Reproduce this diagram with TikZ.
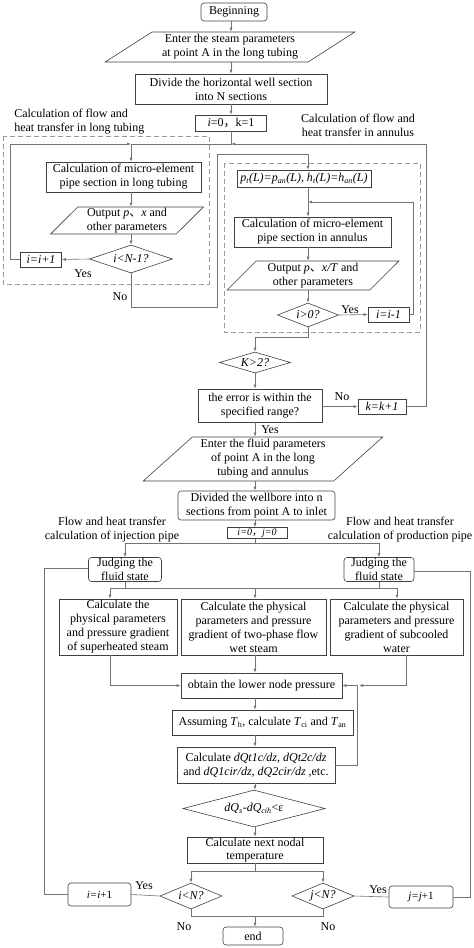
\documentclass[tikz,border=0pt]{standalone}
\usepackage{fontspec}
\setmainfont{Liberation Serif}
\newfontfamily\cjk{Noto Sans CJK SC}
\usetikzlibrary{arrows.meta, shapes.geometric}
\newcommand{\dun}{{\cjk 、}}
\newcommand{\dou}{{\cjk ，}}
\newcommand{\sbt}[1]{\textsubscript{#1}}

\begin{document}
\begin{tikzpicture}[x=1pt, y=-1pt,
        font=\fontsize{12}{14}\selectfont,
        line width=0.6pt,
        box/.style={draw=black!75, align=center, inner sep=0pt},
        rbox/.style={box, rounded corners=3pt},
        iobox/.style={box, trapezium, trapezium stretches=true},
        decision/.style={box, diamond, shape aspect=#1},
        decision/.default=3,
        label/.style={align=center, inner sep=0pt},
        arr/.style={draw=black!55, -{Latex[length=4pt, width=3pt]}},
        conn/.style={draw=black!55},
        group/.style={draw=black!40, dashed, dash pattern=on 5pt off 3pt}]
    \useasboundingbox (0,0) rectangle (474,948);

    \node[rbox, minimum width=66, minimum height=18] (start) at (234,12) {Beginning};
    \node[iobox, trapezium left angle=31.5, trapezium right angle=148.5, minimum width=250, minimum height=30] (enter) at (230,47) {Enter the steam parameters\\at point A in the long tubing};
    \node[box, minimum width=192, minimum height=30] (divide) at (231,89) {Divide the horizontal well section\\into N sections};
    \node[box, minimum width=71, minimum height=16] (init) at (231,123) {\textit{i}=0\dou k=1};
    \node[label, align=left, anchor=west] (labT) at (14,122) {Calculation of flow and\\heat transfer in long tubing};
    \node[label] (labA) at (358,125) {Calculation of flow and\\heat transfer in annulus};

    \draw[group] (3,136) rectangle (209,284);
    \node[box, minimum width=155, minimum height=30] (calcT) at (123.5,177) {Calculation of micro-element\\pipe section in long tubing};
    \node[iobox, trapezium left angle=48.4, trapezium right angle=131.6, minimum width=153, minimum height=27] (outT) at (127,220.5) {Output \textit{p}\dun\textit{x} and\\other parameters};
    \node[decision=3, minimum width=83, minimum height=28] (dT) at (131,259) {\textit{i<N-1?}};
    \node[box, minimum width=41, minimum height=15] (incT) at (41,259.5) {\textit{i=i+1}};

    \draw[group] (224,163) rectangle (420,332);
    \node[box, minimum width=134, minimum height=17] (bc) at (304,178.5) {\textit{p\sbt{t}(L)=p\sbt{an}(L), h\sbt{t}(L)=h\sbt{an}(L)}};
    \node[box, minimum width=157, minimum height=30] (calcA) at (312.5,232) {Calculation of micro-element\\pipe section in annulus};
    \node[iobox, trapezium left angle=47, trapezium right angle=133, minimum width=172, minimum height=29] (outA) at (313,275.5) {Output \textit{p}\dun\textit{x/T} and\\other parameters};
    \node[decision=2.5, minimum width=61, minimum height=24] (dA) at (308,315) {\textit{i>0?}};
    \node[box, minimum width=41, minimum height=15] (decA) at (388.5,314.5) {\textit{i=i-1}};

    \node[decision=3.4, minimum width=71, minimum height=21] (dK) at (255,362.5) {\textit{K>2?}};
    \node[box, minimum width=124, minimum height=33] (err) at (260,405.5) {the error is within the\\specified range?};
    \node[box, minimum width=48, minimum height=15] (incK) at (382,406.5) {\textit{k=k+1}};
    \node[iobox, trapezium left angle=42, trapezium right angle=138, minimum width=240, minimum height=44] (fluid) at (263,459) {Enter the fluid parameters\\of point A in the long\\tubing and annulus};
    \node[rbox, minimum width=157, minimum height=29] (divw) at (256.5,505.5) {Divided the wellbore into n\\sections from point A to inlet};
    \node[box, minimum width=60, minimum height=11, font=\fontsize{10}{11}\selectfont] (init2) at (257,533) {\textit{i=0}\dou\textit{j=0}};
    \node[label] (labI) at (112,530) {Flow and heat transfer\\calculation of injection pipe};
    \node[label] (labP) at (400,530) {Flow and heat transfer\\calculation of production pipe};

    \node[rbox, minimum width=73, minimum height=24] (judgeI) at (125,569.5) {Judging the\\fluid state};
    \node[rbox, minimum width=70, minimum height=24] (judgeP) at (379,569.5) {Judging the\\fluid state};
    \node[box, minimum width=118, minimum height=56] (sup) at (118,627) {Calculate the\\physical parameters\\and pressure gradient\\of superheated steam};
    \node[box, minimum width=145, minimum height=56] (wet) at (253.5,627) {Calculate the physical\\parameters and pressure\\gradient of two-phase flow\\wet steam};
    \node[box, minimum width=133, minimum height=56] (sub) at (396.5,627) {Calculate the physical\\parameters and pressure\\gradient of subcooled\\water};
    \node[box, minimum width=161, minimum height=25] (lower) at (261.5,685.5) {obtain the lower node pressure};
    \node[box, minimum width=181, minimum height=25] (assume) at (262.5,722.5) {Assuming \textit{T}\sbt{h}, calculate \textit{T}\sbt{ci} and \textit{T}\sbt{an}};
    \node[box, minimum width=158, minimum height=36] (dq) at (256,765) {Calculate \textit{dQt1c/dz}, \textit{dQt2c/dz}\\and \textit{dQ1cir/dz}, \textit{dQ2cir/dz} ,etc.};
    \node[decision=3.8, minimum width=142, minimum height=37] (dQ) at (254,808.5) {\textit{dQ\sbt{s}-dQ\sbt{cih}}<ε};
    \node[box, minimum width=136, minimum height=26, font=\fontsize{12}{13}\selectfont] (next) at (255,850) {Calculate next nodal\\temperature};
    \node[decision=2.4, minimum width=62, minimum height=26] (dI) at (191,896) {\textit{i<N?}};
    \node[decision=2.4, minimum width=62, minimum height=26] (dJ) at (323,896) {\textit{j<N?}};
    \node[rbox, minimum width=63, minimum height=23, font=\fontsize{11}{12}\selectfont] (incI) at (99.5,894.5) {\textit{i=i}+1};
    \node[rbox, minimum width=64, minimum height=22, font=\fontsize{11}{12}\selectfont] (incJ) at (421,897) {\textit{j=j}+1};
    \node[rbox, minimum width=60, minimum height=18] (end) at (253,936) {end};

    \coordinate (colT) at (131,144);
    \coordinate (jT) at (231,144);
    \coordinate (loopT) at (10,144);
    \coordinate (loopA) at (426,144);
    \coordinate (colA) at (308,202);
    \coordinate (loopD) at (413,202);
    \coordinate (colM) at (255,337);
    \coordinate (forkL) at (110,588);
    \coordinate (forkR) at (397,588);
    \coordinate (jL) at (357,685.5);
    \coordinate (forkN) at (255,871);
    \coordinate (joinE) at (255,916);
    \coordinate (loopI) at (44,568);
    \coordinate (loopJ) at (470,571);

    \foreach \a/\b in {start/enter, enter/divide, divide/init}
        \draw[arr] (\a.south -| jT) -- (\b.north -| jT);
    \draw[conn] (init.south) -- (jT) -- (colT);
    \draw[arr] (colT) -- (colT |- calcT.north);
    \draw[arr] (calcT.south -| colT) -- (colT |- outT.north);
    \draw[arr] (outT.south -| colT) -- (dT.north);
    \draw[arr] (dT.west) -- (incT.east);
    \node[label] at (83,274) {Yes};
    \draw[arr] (incT.west) -| (loopT) -- (colT);
    \draw[arr] (dT.south) -- (131,307) -| (217,154) -| (colA |- bc.north);
    \node[label] at (120,297) {No};

    \draw[arr] (colA |- bc.south) -- (colA |- calcA.north);
    \draw[arr] (decA.east) -| (loopD) -- (colA);
    \draw[arr] (colA |- calcA.south) -- (colA |- outA.north);
    \draw[arr] (colA |- outA.south) -- (dA.north);
    \draw[arr] (dA.east) -- (decA.west);
    \node[label] at (350,310) {Yes};
    \draw[arr] (dA.south) |- (colM) -- (dK.north);
    \draw[arr] (dK.south) -- (colM |- err.north);
    \draw[arr] (err.east |- incK) -- (incK.west);
    \node[label] at (342,397) {No};
    \draw[arr] (incK.east) -| (loopA) -- (jT);
    \draw[arr] (colM |- err.south) -- (colM |- fluid.north);
    \node[label] at (270,430) {Yes};
    \draw[arr] (colM |- fluid.south) -- (colM |- divw.north);
    \draw[arr] (colM |- divw.south) -- (colM |- init2.north);

    \draw[conn] (init2.south -| colM) -- (colM |- 0,543);
    \draw[arr] (colM |- 0,543) -| (judgeI.north);
    \draw[arr] (colM |- 0,543) -| (judgeP.north);
    \draw[conn] (forkL) -- (forkR);
    \draw[conn] (judgeI.south) -- (judgeI.south |- forkL);
    \draw[conn] (judgeP.south) -- (judgeP.south |- forkL);
    \draw[arr] (forkL) -- (forkL |- sup.north);
    \draw[arr] (colM |- forkL) -- (colM |- wet.north);
    \draw[arr] (forkR) -- (forkR |- sub.north);

    \draw[arr] (forkL |- sup.south) |- (lower.west);
    \draw[arr] (colM |- wet.south) -- (colM |- lower.north);
    \draw[arr] ([xshift=10pt]sub.south) |- ([xshift=2pt]jL);
    \draw[arr] (dq.east) -| (jL) -- (lower.east);
    \foreach \a/\b in {lower/assume, assume/dq, dq/dQ, dQ/next}
        \draw[arr] (\a.south -| colM) -- (\b.north -| colM);

    \draw[conn] (next.south -| colM) -- (forkN);
    \draw[arr] (forkN) -| (dI.north);
    \draw[arr] (forkN) -| (dJ.north);
    \draw[conn] (dI.west) -- (incI.east);
    \draw[conn] (dJ.east) -- (incJ.west);
    \node[label] at (144,886) {Yes};
    \node[label] at (378,890) {Yes};
    \draw[conn] (incI.west) -| (loopI) -- (loopI -| judgeI.west);
    \draw[conn] (incJ.east) -| (loopJ) -- (loopJ -| judgeP.east);
    \draw[conn] (dI.south) |- (joinE) -| (dJ.south);
    \draw[arr] (joinE) -- (joinE |- end.north);
    \node[label] at (184,927) {No};
    \node[label] at (328,927) {No};
\end{tikzpicture}
\end{document}
